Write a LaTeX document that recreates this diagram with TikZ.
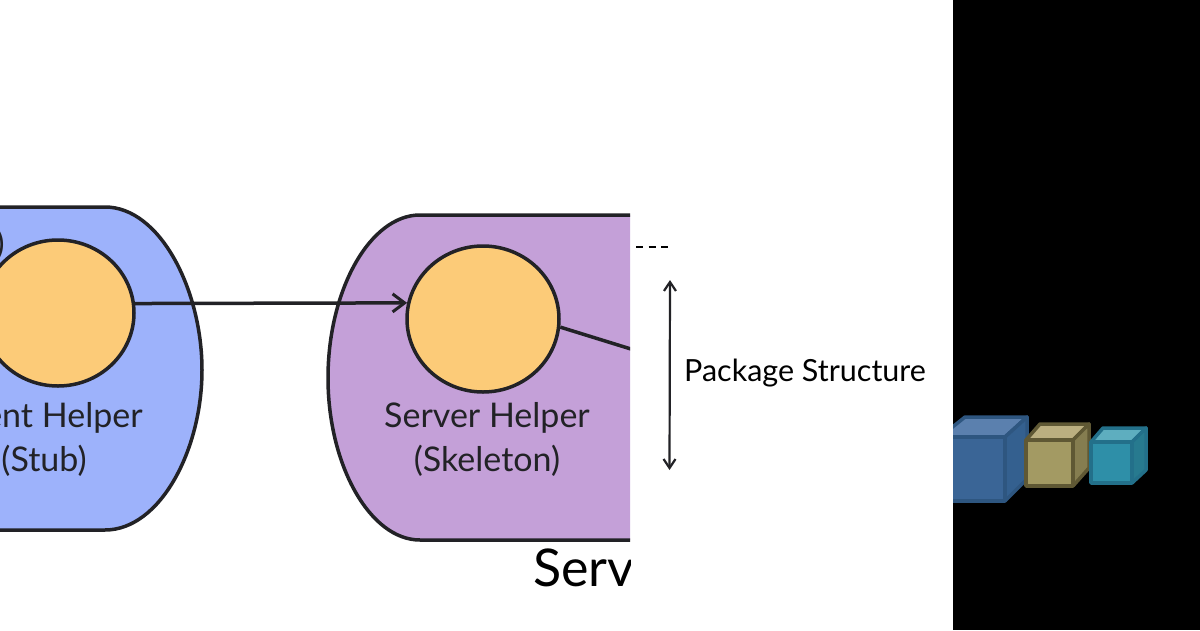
\documentclass[tikz,border=0pt]{standalone}
\usepackage{fontspec}
\setmainfont{Lato}
\usetikzlibrary{shapes.geometric,arrows.meta}
\definecolor{inkc}{HTML}{222226}
\definecolor{bluefill}{HTML}{9DB2FB}
\definecolor{purplefill}{HTML}{C4A0D8}
\definecolor{orangefill}{HTML}{FCCB78}
\definecolor{cbfront}{HTML}{3A6596}
\definecolor{cbtop}{HTML}{5B80AE}
\definecolor{cbside}{HTML}{34608F}
\definecolor{cbedge}{HTML}{2E5680}
\definecolor{cofront}{HTML}{A39A63}
\definecolor{cotop}{HTML}{BBAF80}
\definecolor{coside}{HTML}{857D50}
\definecolor{coedge}{HTML}{5F5834}
\definecolor{ctfront}{HTML}{2E8FA8}
\definecolor{cttop}{HTML}{5EAEBF}
\definecolor{ctside}{HTML}{277A8F}
\definecolor{ctedge}{HTML}{23708A}
\tikzset{
  x=1pt,y=-1pt,
  outline/.style={draw=inkc,line width=3.5pt},
  helper/.style={ellipse,draw=inkc,line width=3.5pt,fill=orangefill,minimum width=152pt,minimum height=146pt,inner sep=0pt},
  hand/.style={font=\fontsize{34}{44}\selectfont,text=inkc,align=center,inner sep=0pt},
  note/.style={font=\fontsize{30.5}{36}\selectfont,text=black,inner sep=0pt},
  link/.style={draw=inkc,line width=3.5pt},
  linkarrow/.style={link,-{Straight Barb[length=12pt,width=18pt,line width=3pt]}},
  measure/.style={draw=inkc,line width=2.2pt,{Straight Barb[length=9pt,width=12pt]}-{Straight Barb[length=9pt,width=12pt]}},
  cubeedge/.style={line width=3.5pt,line join=round},
}
\begin{document}
\begin{tikzpicture}
\useasboundingbox (0,0) rectangle (1200,630);
\fill[white] (0,0) rectangle (1200,630);
\begin{scope}
\clip (0,0) rectangle (630,630);
\path[outline,fill=bluefill] (-60,207) -- (105,207) .. controls (160,207) and (202,290) .. (202,370) .. controls (202,450) and (160,530) .. (105,530) -- (-60,530) -- cycle;
\path[outline,fill=purplefill] (660,215) -- (420,215) .. controls (370,215) and (328,290) .. (328,378) .. controls (328,465) and (370,540) .. (420,540) -- (660,540) -- cycle;
\node[hand,anchor=east] (paren) at (5,245) {)};
\node[helper] (cl) at (58,313) {};
\node[helper] (sv) at (483,319) {};
\coordinate (sinkc) at (660,358);
\draw[linkarrow] (cl.7.5) -- (sv.168);
\draw[link] (sv.-6) -- (sinkc);
\node[hand] (clientlabel) at (44,439) {Client Helper\\(Stub)};
\node[hand] (serverlabel) at (487,439) {Server Helper\\(Skeleton)};
\node[font=\fontsize{52}{56}\selectfont,text=black,anchor=base west,inner sep=0pt] (servertitle) at (533,586) {Server};
\end{scope}
\coordinate (dashl) at (636,247);
\coordinate (dashr) at (668,247);
\draw[black,line width=1.6pt,dash pattern=on 7pt off 5.5pt] (dashl) -- (dashr);
\coordinate (mtop) at (670,280);
\coordinate (mbot) at (669.5,470);
\draw[measure] (mtop) -- (mbot);
\node[note,anchor=west] (pkg) at (684,373) {Package Structure};
\fill[black] (953,0) rectangle (1200,630);
\begin{scope}[cubeedge]
\clip (953,0) rectangle (1200,630);
% blue cube
\filldraw[draw=cbedge,fill=cbtop] (940,437) -- (965,417) -- (1027,417) -- (1005,437) -- cycle;
\filldraw[draw=cbedge,fill=cbside] (1005,437) -- (1027,417) -- (1027,479) -- (1005,501) -- cycle;
\filldraw[draw=cbedge,fill=cbfront] (940,437) rectangle (1005,501);
% olive cube
\filldraw[draw=coedge,fill=cotop] (1026,440) -- (1040,424) -- (1089,424) -- (1073,440) -- cycle;
\filldraw[draw=coedge,fill=coside] (1073,440) -- (1089,424) -- (1089,468) -- (1073,486) -- cycle;
\filldraw[draw=coedge,fill=cofront] (1026,440) rectangle (1073,486);
% teal cube
\filldraw[draw=ctedge,fill=cttop] (1091,442) -- (1103,428) -- (1146,428) -- (1132,442) -- cycle;
\filldraw[draw=ctedge,fill=ctside] (1132,442) -- (1146,428) -- (1146,470) -- (1132,483) -- cycle;
\filldraw[draw=ctedge,fill=ctfront] (1091,442) rectangle (1132,483);
\end{scope}
\end{tikzpicture}
\end{document}
